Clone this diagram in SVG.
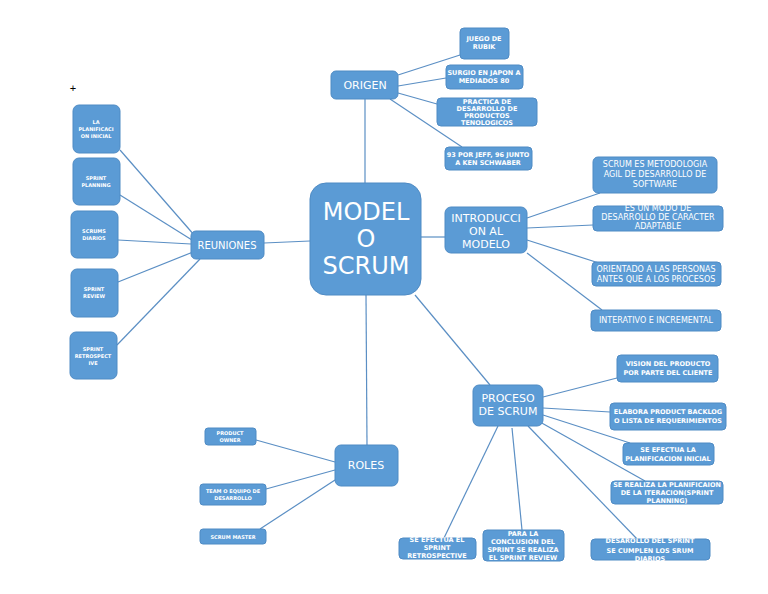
<svg xmlns="http://www.w3.org/2000/svg" width="768" height="594" viewBox="0 0 768 594">
<style>
.n{fill:#5b9bd5;stroke:#4f8bc4;stroke-width:1}
.b{fill:#fff;font-family:"DejaVu Sans",sans-serif;text-anchor:middle}
.s{fill:#fff;font-family:"DejaVu Sans",sans-serif;font-weight:bold;font-size:6.5px;text-anchor:middle}
.t{fill:#fff;font-family:"DejaVu Sans",sans-serif;font-weight:bold;font-size:5px;text-anchor:middle}
#c line{stroke:#5b8fc4;stroke-width:1.2}
</style>
<rect width="768" height="594" fill="#fff"/>
<text x="73" y="92" font-family="Liberation Sans,sans-serif" font-size="11" text-anchor="middle">+</text>
<g id="c">
<line x1="365" y1="183" x2="365" y2="99"/><line x1="421" y1="237" x2="445" y2="237"/>
<line x1="310" y1="241" x2="264" y2="243"/><line x1="415" y1="295" x2="490" y2="385"/>
<line x1="366" y1="295" x2="367" y2="445"/>
<line x1="398" y1="75" x2="460" y2="55"/><line x1="398" y1="86" x2="446" y2="78"/>
<line x1="398" y1="93" x2="437" y2="104"/><line x1="390" y1="99" x2="462" y2="147"/>
<line x1="527" y1="218" x2="600" y2="193"/><line x1="527" y1="228" x2="593" y2="225"/>
<line x1="527" y1="240" x2="602" y2="264"/><line x1="527" y1="253" x2="602" y2="310"/>
<line x1="195" y1="236" x2="120" y2="150"/><line x1="192" y1="240" x2="120" y2="195"/>
<line x1="191" y1="244" x2="118" y2="240"/><line x1="193" y1="252" x2="118" y2="282"/>
<line x1="200" y1="259" x2="117" y2="345"/>
<line x1="543" y1="397" x2="617" y2="378"/><line x1="543" y1="408" x2="610" y2="412"/>
<line x1="543" y1="415" x2="630" y2="443"/><line x1="540" y1="422" x2="645" y2="481"/>
<line x1="528" y1="426" x2="638" y2="540"/><line x1="512" y1="428" x2="522" y2="530"/>
<line x1="498" y1="426" x2="444" y2="538"/>
<line x1="335" y1="462" x2="256" y2="440"/><line x1="335" y1="470" x2="266" y2="489"/>
<line x1="335" y1="480" x2="260" y2="529"/>
</g>
<g id="center"><rect class="n" x="310" y="183" width="111" height="112" rx="16"/>
<text class="b" font-size="24"><tspan x="366" y="220">MODEL</tspan><tspan x="366" y="247">O</tspan><tspan x="366" y="274">SCRUM</tspan></text></g>
<g id="origen"><rect class="n" x="331" y="71" width="67" height="28" rx="5"/><text class="b" font-size="11" x="365" y="89">ORIGEN</text></g>
<g id="rubik"><rect class="n" x="460" y="28" width="49" height="31" rx="4"/><text class="s"><tspan x="484" y="41">JUEGO DE</tspan><tspan x="484" y="49">RUBIK</tspan></text></g>
<g id="surgio"><rect class="n" x="446" y="65" width="77" height="24" rx="4"/><text class="s"><tspan x="484" y="75">SURGIO EN JAPON A</tspan><tspan x="484" y="83">MEDIADOS 80</tspan></text></g>
<g id="practica"><rect class="n" x="437" y="98" width="100" height="28" rx="4"/><text class="s"><tspan x="487" y="104">PRACTICA DE</tspan><tspan x="487" y="111">DESARROLLO DE</tspan><tspan x="487" y="118">PRODUCTOS</tspan><tspan x="487" y="125">TENOLOGICOS</tspan></text></g>
<g id="jeff"><rect class="n" x="445" y="147" width="87" height="23" rx="4"/><text class="s"><tspan x="488" y="157">93 POR JEFF, 96 JUNTO</tspan><tspan x="488" y="165">A KEN SCHWABER</tspan></text></g>
<g id="intro"><rect class="n" x="445" y="207" width="82" height="46" rx="6"/><text class="b" font-size="11"><tspan x="486" y="222">INTRODUCCI</tspan><tspan x="486" y="235">ON AL</tspan><tspan x="486" y="248">MODELO</tspan></text></g>
<g id="i1"><rect class="n" x="593" y="157" width="124" height="36" rx="5"/><text class="b" font-size="8"><tspan x="655" y="167">SCRUM ES METODOLOGIA</tspan><tspan x="655" y="177">AGIL DE DESARROLLO DE</tspan><tspan x="655" y="187">SOFTWARE</tspan></text></g>
<g id="i2"><rect class="n" x="593" y="206" width="130" height="25" rx="4"/><text class="b" font-size="8"><tspan x="658" y="211">ES UN MODO DE</tspan><tspan x="658" y="220">DESARROLLO DE CARACTER</tspan><tspan x="658" y="229">ADAPTABLE</tspan></text></g>
<g id="i3"><rect class="n" x="592" y="262" width="129" height="24" rx="4"/><text class="b" font-size="8"><tspan x="656" y="272">ORIENTADO A LAS PERSONAS</tspan><tspan x="656" y="282">ANTES QUE A LOS PROCESOS</tspan></text></g>
<g id="i4"><rect class="n" x="591" y="310" width="130" height="21" rx="4"/><text class="b" font-size="8" x="656" y="323">INTERATIVO E INCREMENTAL</text></g>
<g id="reuniones"><rect class="n" x="191" y="231" width="73" height="28" rx="5"/><text class="b" font-size="10" x="227" y="249">REUNIONES</text></g>
<g id="r1"><rect class="n" x="73" y="105" width="47" height="48" rx="6"/><text class="t"><tspan x="96" y="124">LA</tspan><tspan x="96" y="131">PLANIFICACI</tspan><tspan x="96" y="138">ON INICIAL</tspan></text></g>
<g id="r2"><rect class="n" x="73" y="158" width="47" height="47" rx="6"/><text class="t"><tspan x="96" y="180">SPRINT</tspan><tspan x="96" y="187">PLANNING</tspan></text></g>
<g id="r3"><rect class="n" x="71" y="211" width="47" height="47" rx="6"/><text class="t"><tspan x="94" y="233">SCRUMS</tspan><tspan x="94" y="240">DIARIOS</tspan></text></g>
<g id="r4"><rect class="n" x="71" y="269" width="47" height="48" rx="6"/><text class="t"><tspan x="94" y="291">SPRINT</tspan><tspan x="94" y="298">REVIEW</tspan></text></g>
<g id="r5"><rect class="n" x="70" y="332" width="47" height="47" rx="6"/><text class="t"><tspan x="93" y="351">SPRINT</tspan><tspan x="93" y="358">RETROSPECT</tspan><tspan x="93" y="365">IVE</tspan></text></g>
<g id="proceso"><rect class="n" x="473" y="385" width="70" height="41" rx="6"/><text class="b" font-size="11"><tspan x="508" y="402">PROCESO</tspan><tspan x="508" y="415">DE SCRUM</tspan></text></g>
<g id="p1"><rect class="n" x="617" y="355" width="101" height="27" rx="4"/><text class="s"><tspan x="668" y="366">VISION DEL PRODUCTO</tspan><tspan x="668" y="375">POR PARTE DEL CLIENTE</tspan></text></g>
<g id="p2"><rect class="n" x="610" y="403" width="116" height="27" rx="4"/><text class="s"><tspan x="668" y="414">ELABORA PRODUCT BACKLOG</tspan><tspan x="668" y="423">O LISTA DE REQUERIMIENTOS</tspan></text></g>
<g id="p3"><rect class="n" x="623" y="443" width="91" height="22" rx="4"/><text class="s"><tspan x="668" y="452">SE EFECTUA LA</tspan><tspan x="668" y="461">PLANIFICACION INICIAL</tspan></text></g>
<g id="p4"><rect class="n" x="611" y="481" width="112" height="23" rx="4"/><text class="s"><tspan x="667" y="487">SE REALIZA LA PLANIFICAION</tspan><tspan x="667" y="495">DE LA ITERACION(SPRINT</tspan><tspan x="667" y="503">PLANNING)</tspan></text></g>
<g id="p5"><rect class="n" x="591" y="539" width="119" height="21" rx="4"/><text class="s"><tspan x="650" y="543">DESAROLLO DEL SPRINT</tspan><tspan x="650" y="553">SE CUMPLEN LOS SRUM</tspan><tspan x="650" y="561">DIARIOS</tspan></text></g>
<g id="p6"><rect class="n" x="483" y="530" width="81" height="31" rx="4"/><text class="s"><tspan x="523" y="536">PARA LA</tspan><tspan x="523" y="544">CONCLUSION DEL</tspan><tspan x="523" y="552">SPRINT SE REALIZA</tspan><tspan x="523" y="560">EL SPRINT REVIEW</tspan></text></g>
<g id="p7"><rect class="n" x="399" y="538" width="77" height="21" rx="4"/><text class="s"><tspan x="437" y="542">SE EFECTUA EL</tspan><tspan x="437" y="550">SPRINT</tspan><tspan x="437" y="558">RETROSPECTIVE</tspan></text></g>
<g id="roles"><rect class="n" x="335" y="445" width="63" height="41" rx="6"/><text class="b" font-size="11" x="366" y="469">ROLES</text></g>
<g id="o1"><rect class="n" x="205" y="428" width="51" height="17" rx="3"/><text class="t"><tspan x="230" y="435">PRODUCT</tspan><tspan x="230" y="442">OWNER</tspan></text></g>
<g id="o2"><rect class="n" x="200" y="484" width="66" height="21" rx="3"/><text class="t"><tspan x="233" y="493">TEAM O EQUIPO DE</tspan><tspan x="233" y="500">DESARROLLO</tspan></text></g>
<g id="o3"><rect class="n" x="200" y="529" width="66" height="15" rx="3"/><text class="t" x="233" y="539">SCRUM MASTER</text></g>
</svg>
